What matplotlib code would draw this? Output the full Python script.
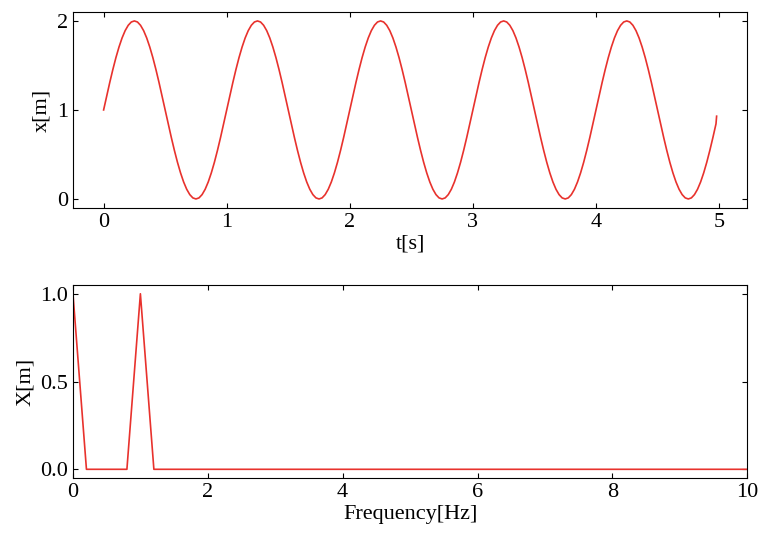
import numpy as np
import matplotlib.pyplot as plt

plt.rcParams['font.family'] = ['Liberation Serif', 'DejaVu Serif']
plt.rcParams['font.size'] = 16
plt.rcParams['xtick.direction'] = 'in'
plt.rcParams['ytick.direction'] = 'in'
plt.rcParams['xtick.top'] = True
plt.rcParams['ytick.right'] = True

# one period of the signal, read every 0.025 s
period_vals = [1.0, 1.156, 1.309, 1.454, 1.588, 1.707, 1.809, 1.891, 1.951, 1.988,
               2.0, 1.988, 1.951, 1.891, 1.809, 1.707, 1.588, 1.454, 1.309, 1.156,
               1.0, 0.844, 0.691, 0.546, 0.412, 0.293, 0.191, 0.109, 0.049, 0.012,
               0.0, 0.012, 0.049, 0.109, 0.191, 0.293, 0.412, 0.546, 0.691, 0.844]
n_periods = 5
dt = 0.025
x_vals = list(np.tile(period_vals, n_periods)) + [0.93]
t_vals = np.arange(len(x_vals)) * dt
t_vals[-1] = 4.98

freq = np.arange(51) * 0.2
spec = [0.0] * 51
spec[0] = 1.0
spec[5] = 1.0

fig = plt.figure(figsize=(7.68, 5.47), dpi=100)
ax1 = fig.add_axes([0.095, 0.620, 0.878, 0.358])
ax2 = fig.add_axes([0.095, 0.126, 0.878, 0.353])

ax1.plot(t_vals, x_vals, color='#e8322d', linewidth=1.2)
ax1.set_xlabel('t[s]', labelpad=2)
ax1.set_ylabel('x[m]')
ax1.set_xticks([0, 1, 2, 3, 4, 5])
ax1.set_yticks([0, 1, 2])

ax2.plot(freq, spec, color='#e8322d', linewidth=1.2)
ax2.set_xlim(0, 10)
ax2.set_xlabel('Frequency[Hz]', labelpad=2)
ax2.set_ylabel('X[m]')
ax2.set_yticks([0.0, 0.5, 1.0])

fig.savefig('out.png')
